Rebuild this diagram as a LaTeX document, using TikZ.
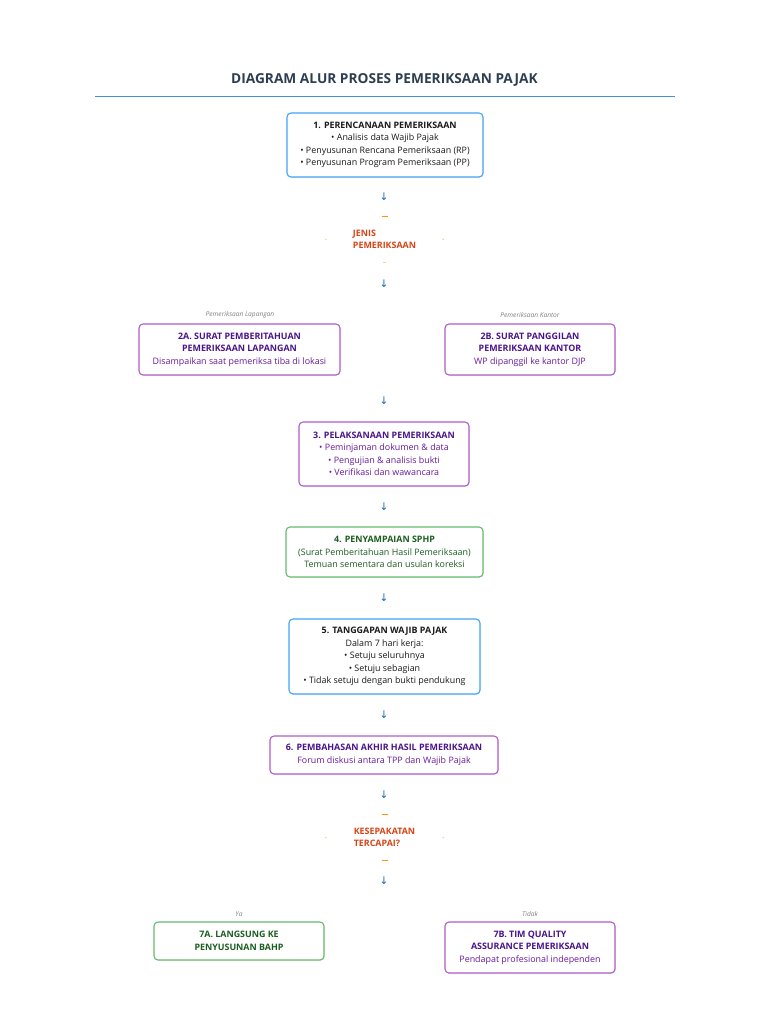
\documentclass[tikz,border=0pt]{standalone}
\usepackage{fontspec}
\setmainfont{Open Sans}
\newfontfamily\arrowfont{DejaVu Sans}
\usetikzlibrary{shapes.geometric}
\usetikzlibrary{shadows}

\definecolor{titlenavy}{HTML}{2C3E50}
\definecolor{ruleblue}{HTML}{4A90D0}
\definecolor{boxblue}{HTML}{42A5F5}
\definecolor{boxpurple}{HTML}{B05CC8}
\definecolor{boxgreen}{HTML}{66BB6A}
\definecolor{textdark}{HTML}{1A1A1A}
\definecolor{purpledark}{HTML}{4A148C}
\definecolor{purplesub}{HTML}{6A1B9A}
\definecolor{greendark}{HTML}{1B5E20}
\definecolor{decred}{HTML}{D84315}
\definecolor{decorange}{HTML}{FF9800}
\definecolor{arrowblue}{HTML}{1565C0}

\begin{document}
\begin{tikzpicture}[x=1pt, y=-1pt,
    stepbox/.style={draw, rounded corners=4pt, line width=1.1pt, fill=white, align=center,
        inner sep=0pt, font=\fontsize{8.9}{12.4}\selectfont,
        drop shadow={opacity=0.12, shadow xshift=0.8pt, shadow yshift=-1pt}},
    bluebox/.style={stepbox, draw=boxblue, text=textdark},
    purplebox/.style={stepbox, draw=boxpurple, text=purplesub},
    greenbox/.style={stepbox, draw=boxgreen, text=greendark},
    decision/.style={diamond, minimum width=117pt, minimum height=45pt, inner sep=0pt},
    dectext/.style={align=left, text=decred, font=\fontsize{8.9}{12.2}\selectfont\bfseries},
    tipmark/.style={draw=decorange, line width=1.3pt},
    sidemark/.style={fill=decorange!50},
    downarrow/.style={text=arrowblue, inner sep=0pt, font=\arrowfont\fontsize{10.5}{11}\selectfont},
    branch/.style={text=gray, inner sep=0pt, font=\itshape\fontsize{6.6}{7}\selectfont}]

    \useasboundingbox (0, 0) rectangle (768, 1024);

    % Title
    \node[text=titlenavy, font=\fontsize{13.7}{15}\selectfont\bfseries] at (384.5, 80) (title) {DIAGRAM ALUR PROSES PEMERIKSAAN PAJAK};
    \coordinate (ruleL) at (95, 96);
    \coordinate (ruleR) at (675, 96);
    \draw[ruleblue, line width=0.9pt] (ruleL) -- (ruleR);

    % Declare the steps
    \node[bluebox, minimum width=196pt, minimum height=64pt] at (385, 145) (S1)
        {\textbf{1. PERENCANAAN PEMERIKSAAN}\\ • Analisis data Wajib Pajak\\ • Penyusunan Rencana Pemeriksaan (RP)\\ • Penyusunan Program Pemeriksaan (PP)};
    \node[purplebox, minimum width=201pt, minimum height=51pt] at (239.5, 349.5) (S2A)
        {\textbf{\textcolor{purpledark}{2A. SURAT PEMBERITAHUAN}}\\ \textbf{\textcolor{purpledark}{PEMERIKSAAN LAPANGAN}}\\ Disampaikan saat pemeriksa tiba di lokasi};
    \node[purplebox, minimum width=170pt, minimum height=51pt] at (530, 349.5) (S2B)
        {\textbf{\textcolor{purpledark}{2B. SURAT PANGGILAN}}\\ \textbf{\textcolor{purpledark}{PEMERIKSAAN KANTOR}}\\ WP dipanggil ke kantor DJP};
    \node[purplebox, minimum width=170pt, minimum height=64pt] at (384, 454) (S3)
        {\textbf{\textcolor{purpledark}{3. PELAKSANAAN PEMERIKSAAN}}\\ • Peminjaman dokumen \& data\\ • Pengujian \& analisis bukti\\ • Verifikasi dan wawancara};
    \node[greenbox, minimum width=197pt, minimum height=50pt] at (384.5, 552) (S4)
        {\textbf{4. PENYAMPAIAN SPHP}\\ (Surat Pemberitahuan Hasil Pemeriksaan)\\ Temuan sementara dan usulan koreksi};
    \node[bluebox, minimum width=191pt, minimum height=75pt] at (384.5, 656.5) (S5)
        {\textbf{5. TANGGAPAN WAJIB PAJAK}\\ Dalam 7 hari kerja:\\ • Setuju seluruhnya\\ • Setuju sebagian\\ • Tidak setuju dengan bukti pendukung};
    \node[purplebox, minimum width=228pt, minimum height=38pt] at (384, 755) (S6)
        {\textbf{\textcolor{purpledark}{6. PEMBAHASAN AKHIR HASIL PEMERIKSAAN}}\\ Forum diskusi antara TPP dan Wajib Pajak};
    \node[greenbox, minimum width=170pt, minimum height=38pt] at (239, 941) (S7A)
        {\textbf{7A. LANGSUNG KE}\\ \textbf{PENYUSUNAN BAHP}};
    \node[purplebox, minimum width=170pt, minimum height=51pt] at (530, 947.5) (S7B)
        {\textbf{\textcolor{purpledark}{7B. TIM QUALITY}}\\ \textbf{\textcolor{purpledark}{ASSURANCE PEMERIKSAAN}}\\ Pendapat profesional independen};

    % Declare the decisions
    \node[decision] at (384.5, 239.5) (D1) {};
    \node[dectext] at (D1) (D1text) {JENIS\\PEMERIKSAAN};
    \node[decision] at (384.5, 837.5) (D2) {};
    \node[dectext] at (D2) (D2text) {KESEPAKATAN\\TERCAPAI?};

    % Visible tips of the decisions
    \draw[tipmark] ([xshift=-3pt]D1.north) -- ([xshift=3pt]D1.north);
    \draw[tipmark, draw=decorange!45] ([xshift=-1.5pt]D1.south) -- ([xshift=1.5pt]D1.south);
    \fill[sidemark] (D1.west) circle (0.8pt);
    \fill[sidemark] (D1.east) circle (0.8pt);
    \draw[tipmark] ([xshift=-3pt]D2.north) -- ([xshift=3pt]D2.north);
    \draw[tipmark] ([xshift=-3pt]D2.south) -- ([xshift=3pt]D2.south);
    \fill[sidemark] (D2.west) circle (0.8pt);
    \fill[sidemark] (D2.east) circle (0.8pt);

    % Declare the arrows
    \node[downarrow] at (384, 197) (A1) {↓};
    \node[downarrow] at (384, 284) (A2) {↓};
    \node[downarrow] at (384, 401) (A3) {↓};
    \node[downarrow] at (384, 507) (A4) {↓};
    \node[downarrow] at (384, 598) (A5) {↓};
    \node[downarrow] at (384, 715) (A6) {↓};
    \node[downarrow] at (384, 795) (A7) {↓};
    \node[downarrow] at (384, 881) (A8) {↓};

    % Declare branch labels
    \node[branch] at (240, 315) (L2A) {Pemeriksaan Lapangan};
    \node[branch] at (530, 315) (L2B) {Pemeriksaan Kantor};
    \node[branch] at (239, 914) (L7A) {Ya};
    \node[branch] at (530, 914) (L7B) {Tidak};

\end{tikzpicture}
\end{document}
